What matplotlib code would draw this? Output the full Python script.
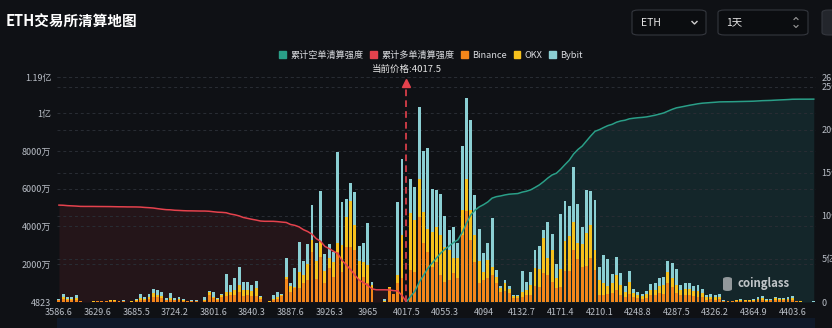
import matplotlib
matplotlib.use('Agg')
import matplotlib.pyplot as plt
import numpy as np
from matplotlib.patches import Patch, FancyBboxPatch, Rectangle
from matplotlib.lines import Line2D

plt.rcParams['font.family'] = ['Noto Sans CJK SC', 'DejaVu Sans']

# liquidation intensity per price level, in 万 (10k USD), one value per bar
binance = [80, 160, 110, 90, 130, 50, 0, 20, 20, 30, 30, 30, 60, 60, 30, 40, 20, 20, 70, 130,
           110, 160, 270, 240, 210, 80, 130, 80, 110, 60, 30, 40, 40, 0, 40, 370, 210, 110, 270, 320,
           370, 370, 530, 320, 370, 320, 320, 160, 0, 20, 110, 160, 320, 1200, 530, 730, 740, 1010, 1170, 2650,
           1220, 2390, 1010, 1800, 1330, 2650, 1590, 2920, 2920, 2760, 1170, 1330, 990, 640, 0, 0, 20, 740, 410, 1010,
           1270, 0, 1700, 1590, 4510, 3130, 2650, 1860, 2120, 1430, 1060, 1170, 1540, 1270, 3550, 4820, 3290, 2120, 1010, 1170,
           1270, 1430, 1010, 530, 580, 480, 210, 210, 270, 370, 370, 850, 800, 1540, 1430, 1060, 740, 800, 1640, 1640,
           2760, 2280, 1860, 1910, 2330, 1700, 370, 370, 420, 480, 640, 370, 270, 420, 270, 210, 160, 210, 370, 370,
           480, 420, 1010, 800, 480, 370, 370, 370, 320, 270, 270, 130, 160, 130, 160, 40, 30, 30, 50, 60,
           50, 50, 60, 80, 110, 50, 80, 110, 80, 80, 80, 110, 30, 20, 0, 0, 0]
okx = [50, 130, 60, 80, 90, 10, 0, 0, 10, 10, 10, 10, 30, 30, 0, 20, 0, 20, 30, 80,
       70, 90, 230, 130, 110, 50, 100, 50, 70, 40, 20, 20, 20, 0, 40, 160, 80, 50, 110, 210,
       160, 270, 370, 320, 270, 270, 420, 80, 0, 20, 50, 110, 50, 140, 320, 90, 850, 420, 850, 640,
       950, 800, 640, 530, 800, 480, 1430, 1590, 2440, 1330, 1010, 800, 950, 270, 0, 0, 10, 40, 0, 420,
       2280, 0, 3020, 2760, 2010, 1640, 1220, 1860, 1860, 2120, 1860, 1590, 800, 1060, 1330, 1700, 1590, 1430, 1170, 420,
       950, 420, 320, 190, 420, 190, 110, 110, 270, 270, 530, 950, 950, 1860, 900, 1700, 530, 950, 1590, 1860,
       1480, 850, 1220, 1750, 1750, 1060, 800, 640, 420, 530, 800, 530, 270, 640, 210, 160, 140, 190, 270, 270,
       370, 480, 580, 480, 420, 270, 320, 320, 270, 320, 210, 110, 130, 110, 130, 30, 20, 30, 30, 30,
       30, 30, 40, 80, 80, 50, 50, 80, 70, 70, 80, 110, 30, 20, 0, 0, 0]
bybit = [50, 160, 80, 80, 130, 0, 0, 0, 30, 0, 0, 0, 20, 10, 10, 40, 0, 0, 40, 210,
         110, 160, 210, 270, 210, 60, 270, 80, 110, 70, 0, 30, 40, 0, 170, 50, 220, 50, 50, 950,
         370, 640, 950, 410, 410, 330, 360, 60, 0, 0, 210, 270, 50, 990, 170, 990, 1610, 740, 1060, 1860,
         930, 2700, 900, 730, 530, 4820, 2280, 940, 940, 1750, 800, 990, 2230, 170, 0, 0, 110, 0, 0, 3850,
         4010, 0, 1790, 1730, 3820, 3210, 4280, 2290, 1930, 2160, 1620, 1060, 1630, 820, 3390, 4310, 4770, 2120, 1700, 1020,
         890, 2610, 370, 140, 160, 190, 50, 50, 1080, 440, 700, 950, 1190, 400, 1910, 830, 740, 2900, 2140, 1590,
         2920, 2080, 900, 2290, 1790, 2630, 700, 1480, 1430, 480, 970, 610, 290, 580, 230, 160, 110, 160, 320, 370,
         420, 420, 580, 800, 850, 270, 320, 320, 270, 320, 190, 110, 110, 110, 110, 30, 10, 0, 30, 50,
         30, 30, 50, 110, 130, 50, 30, 100, 80, 80, 90, 110, 0, 0, 0, 0, 50]

x_tick_labels = ['3586.6', '3629.6', '3685.5', '3724.2', '3801.6', '3840.3', '3887.6', '3926.3',
                 '3965', '4017.5', '4055.3', '4094', '4132.7', '4171.4', '4210.1', '4248.8',
                 '4287.5', '4326.2', '4364.9', '4403.6']
tick_every = 9
current_price = '4017.5'

left_ticks = [0.4823, 2000, 4000, 6000, 8000, 10000, 11900]
left_tick_labels = ['4823', '2000万', '4000万', '6000万', '8000万', '1亿', '1.19亿']
right_ticks = [0, 50000, 100000, 150000, 200000, 250000, 261000]
right_tick_labels = ['0', '5亿', '10亿', '15亿', '20亿', '25亿', '26.1亿']

bg = '#0f1115'
c_binance = '#f3861a'
c_okx = '#f6c11d'
c_bybit = '#8bcfd3'
c_long = '#e5424d'
c_short = '#2a9f88'
c_text = '#b9bec6'
c_grid = '#292d34'

b = np.array(binance, dtype=float)
o = np.array(okx, dtype=float)
y = np.array(bybit, dtype=float)
total = b + o + y
idx = np.arange(len(b))
cur = x_tick_labels.index(current_price) * tick_every

# cumulative intensity: longs summed from current price downwards, shorts upwards
long_cum = np.cumsum(total[:cur + 1][::-1])[::-1]
short_cum = np.cumsum(total[cur:])
long_x = idx[:cur + 1]
short_x = idx[cur:]

fig = plt.figure(figsize=(8.32, 3.28), dpi=100, facecolor=bg)
rect = [56.8 / 832, 26 / 328, 759.1 / 832, 224.7 / 328]

# back layer: fills + right grid
ax_back = fig.add_axes(rect, zorder=0)
ax_back.set_facecolor(bg)
ax_back.fill_between(long_x, 0, long_cum, color='#241519', lw=0, zorder=1)
ax_back.fill_between(short_x, 0, short_cum, color='#14262a', lw=0, zorder=1)
ax_back.set_xlim(-0.5, len(b) - 0.5)
ax_back.set_ylim(0, right_ticks[-1])
ax_back.set_yticks(right_ticks)
ax_back.set_axisbelow(False)
ax_back.grid(axis='y', color=c_grid, lw=0.7, ls=(0, (3, 3)))
ax_back.set_xticks([])
ax_back.tick_params(left=False, labelleft=False)
for s in ax_back.spines.values():
    s.set_visible(False)

# bars
ax = fig.add_axes(rect, zorder=1)
ax.patch.set_visible(False)
w = 0.68
ax.bar(idx, b, width=w, color=c_binance, lw=0, zorder=3)
ax.bar(idx, o, bottom=b, width=w, color=c_okx, lw=0, zorder=3)
ax.bar(idx, y, bottom=b + o, width=w, color=c_bybit, lw=0, zorder=3)
ax.set_xlim(-0.5, len(b) - 0.5)
ax.set_ylim(left_ticks[0], left_ticks[-1])
ax.set_yticks(left_ticks)
ax.set_yticklabels(left_tick_labels)
ax.set_xticks(idx[::tick_every][:len(x_tick_labels)])
ax.set_xticklabels(x_tick_labels)
ax.grid(axis='y', color=c_grid, lw=0.7, ls=(0, (3, 3)), zorder=0.5)
ax.tick_params(axis='both', length=0, colors=c_text, labelsize=6.5)
ax.tick_params(axis='y', pad=4)
ax.tick_params(axis='x', pad=4)
for s in ax.spines.values():
    s.set_visible(False)

# lines + right axis (labels run off the right edge, as in the source screenshot)
ax_line = fig.add_axes(rect, zorder=2)
ax_line.patch.set_visible(False)
ax_line.plot(long_x, long_cum, color=c_long, lw=1.1)
ax_line.plot(short_x, short_cum, color=c_short, lw=1.1)
ax_line.plot([cur, cur], [0, right_ticks[-1] * 0.96], color=c_long, lw=1.2, ls=(0, (4, 2.5)))
ax_line.plot([cur], [right_ticks[-1] * 0.975], marker='^', ms=5.5, color=c_long, mec=c_long)
ax_line.set_xlim(-0.5, len(b) - 0.5)
ax_line.set_ylim(0, right_ticks[-1])
ax_line.yaxis.tick_right()
ax_line.set_yticks(right_ticks)
ax_line.set_yticklabels(right_tick_labels)
ax_line.set_xticks([])
ax_line.tick_params(axis='y', length=0, colors=c_text, labelsize=6.5, pad=4)
for s in ax_line.spines.values():
    s.set_visible(False)

fig.text(407 / 832, 1 - 69 / 328, '当前价格:' + current_price, color='#e8e8e8',
         fontsize=6.8, ha='center', va='center')

# legend
handles = [Patch(color=c_short), Patch(color=c_long), Patch(color=c_binance),
           Patch(color=c_okx), Patch(color=c_bybit)]
names = ['累计空单清算强度', '累计多单清算强度', 'Binance', 'OKX', 'Bybit']
fig.legend(handles, names, loc='center', bbox_to_anchor=(431 / 832, 1 - 55 / 328), ncol=5,
           frameon=False, fontsize=6.6, labelcolor='#d8dade', handlelength=0.75,
           handleheight=0.75, handletextpad=0.45, columnspacing=0.75, borderaxespad=0)

# title
fig.text(6 / 832, 1 - 22 / 328, 'ETH交易所清算地图', color='white', fontsize=10.5,
         fontweight='bold', ha='left', va='center')

# selector boxes
def box(x0, x1, y0, y1, fc):
    p = FancyBboxPatch((x0 / 832, 1 - y1 / 328), (x1 - x0) / 832, (y1 - y0) / 328,
                       boxstyle='round,pad=0,rounding_size=0.008', transform=fig.transFigure,
                       fc=fc, ec='#34373e', lw=0.8)
    fig.add_artist(p)

box(632, 706, 10, 35, '#0b0d10')
box(718, 808, 10, 35, '#0b0d10')
box(822, 845, 10, 35, '#23262c')
fig.text(641 / 832, 1 - 22.5 / 328, 'ETH', color='#e6e6e6', fontsize=7.5, va='center')
fig.text(726 / 832, 1 - 22.5 / 328, '1天', color='#e6e6e6', fontsize=7.5, va='center')
fig.add_artist(Line2D([692 / 832, 694.5 / 832, 697 / 832], [1 - 21.5 / 328, 1 - 24 / 328, 1 - 21.5 / 328],
                      transform=fig.transFigure, color='#cfcfcf', lw=1.0))
fig.add_artist(Line2D([794 / 832, 796 / 832, 798 / 832], [1 - 19.5 / 328, 1 - 17.5 / 328, 1 - 19.5 / 328],
                      transform=fig.transFigure, color='#9a9a9a', lw=0.8))
fig.add_artist(Line2D([794 / 832, 796 / 832, 798 / 832], [1 - 25.5 / 328, 1 - 27.5 / 328, 1 - 25.5 / 328],
                      transform=fig.transFigure, color='#9a9a9a', lw=0.8))

# slider band under the axis
fig.add_artist(Rectangle((57 / 832, 0), 758 / 832, 10 / 328, transform=fig.transFigure,
                         fc='#0f1929', ec='none'))

# watermark
fig.add_artist(FancyBboxPatch((723 / 832, 1 - 291 / 328), 9 / 832, 14 / 328,
                              boxstyle='round,pad=0,rounding_size=0.006', transform=fig.transFigure,
                              fc='#a9adb0', ec='none', alpha=0.85))
fig.text(738 / 832, 1 - 283 / 328, 'coinglass', color='#d3d6d9', fontsize=8.2,
         fontweight='bold', va='center', alpha=0.9)

fig.savefig('out.png', dpi=100, facecolor=bg)
